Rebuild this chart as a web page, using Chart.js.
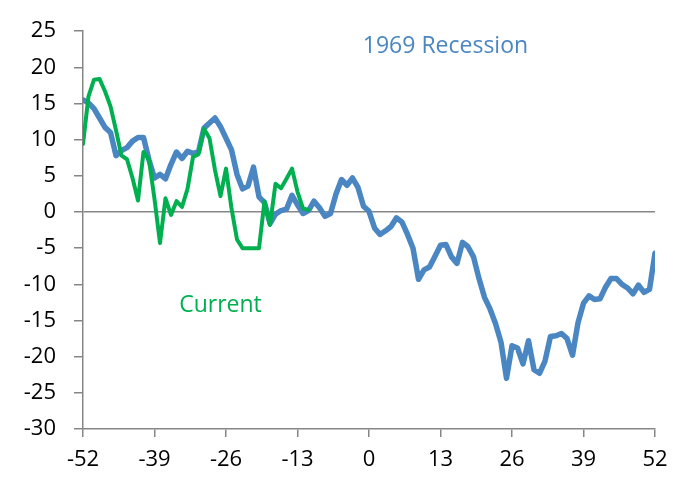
<!DOCTYPE html>
<html>
<head>
<meta charset="utf-8">
<script src="https://cdn.jsdelivr.net/npm/chart.js@4"></script>
<style>
  html, body { margin: 0; padding: 0; background: #fff; }
  #wrap { width: 700px; height: 493px; }
</style>
</head>
<body>
<div id="wrap"><canvas id="c" width="700" height="493"></canvas></div>
<script>
// Weeks relative to the recession start
const weeks1969 = [
  -52,-51,-50,-49,-48,-47,-46,-45,-44,-43,-42,-41,-40,
  -39,-38,-37,-36,-35,-34,-33,-32,-31,-30,-29,-28,-27,
  -26,-25,-24,-23,-22,-21,-20,-19,-18,-17,-16,-15,-14,
  -13,-12,-11,-10,-9,-8,-7,-6,-5,-4,-3,-2,-1,
  0,1,2,3,4,5,6,7,8,9,10,11,12,
  13,14,15,16,17,18,19,20,21,22,23,24,25,
  26,27,28,29,30,31,32,33,34,35,36,37,38,
  39,40,41,42,43,44,45,46,47,48,49,50,51,
  52
];
const recession1969 = [
  15.5,15.1,14.3,13.0,11.7,11.0,7.8,8.5,8.9,9.8,10.3,10.3,7.2,
  4.7,5.2,4.6,6.6,8.3,7.4,8.4,8.1,8.3,11.6,12.3,13.0,11.8,
  10.2,8.6,5.2,3.2,3.6,6.2,2.1,1.3,-1.6,-0.3,0.2,0.4,2.3,
  1.0,-0.2,0.2,1.5,0.6,-0.6,-0.2,2.5,4.5,3.7,4.7,3.4,0.8,
  0.1,-2.2,-3.1,-2.6,-2.0,-0.8,-1.4,-3.1,-5.0,-9.3,-8.0,-7.6,-6.1,
  -4.6,-4.5,-6.2,-7.1,-4.2,-4.8,-6.2,-9.2,-11.8,-13.4,-15.4,-18.0,-23.0,
  -18.5,-18.8,-21.0,-17.8,-21.8,-22.3,-20.6,-17.2,-17.1,-16.8,-17.5,-19.8,-15.3,
  -12.6,-11.6,-12.1,-12.0,-10.4,-9.2,-9.2,-10.0,-10.5,-11.3,-10.1,-11.1,-10.7,
  -5.7
];
const weeksCurrent = [
  -52,-51,-50,-49,-48,-47,-46,-45,-44,-43,-42,-41,-40,
  -39,-38,-37,-36,-35,-34,-33,-32,-31,-30,-29,-28,-27,
  -26,-25,-24,-23,-22,-21,-20,-19,-18,-17,-16,-15,-14,
  -13,-12,-11
];
const current = [
  9.4,16.0,18.3,18.4,16.7,14.6,11.3,7.8,7.3,4.7,1.6,8.3,7.2,
  1.8,-4.3,1.9,-0.4,1.5,0.7,3.2,7.6,8.0,11.5,10.2,5.8,2.2,
  6.0,0.5,-3.8,-5.0,-5.0,-5.0,-5.0,1.5,-1.8,3.9,3.3,4.6,6.0,
  2.8,0.5,0.3
];
const xTicks = [-52,-39,-26,-13,0,13,26,39,52];
const yTicks = [-30,-25,-20,-15,-10,-5,0,5,10,15,20,25];
const seriesLabels = ['1969 Recession', 'Current'];
// label anchors in data units
const labelAnchors = [[13.9, 22.9], [-27.0, -12.9]];

const BLUE = '#4A86C2';
const GREEN = '#00B050';
const AXIS = '#868686';
const FONT = '"Open Sans", Lato, sans-serif';

const toPoints = (xs, ys) => xs.map((x, i) => ({ x: x, y: ys[i] }));

const seriesText = {
  id: 'seriesText',
  afterDatasetsDraw(chart) {
    const { ctx, scales } = chart;
    const colors = [BLUE, GREEN];
    ctx.save();
    ctx.font = '23px ' + FONT;
    ctx.textAlign = 'center';
    ctx.textBaseline = 'middle';
    seriesLabels.forEach((t, i) => {
      ctx.fillStyle = colors[i];
      ctx.fillText(t, scales.x.getPixelForValue(labelAnchors[i][0]), scales.y.getPixelForValue(labelAnchors[i][1]));
    });
    ctx.restore();
  }
};

new Chart(document.getElementById('c'), {
  type: 'line',
  data: {
    datasets: [
      {
        label: seriesLabels[1],
        data: toPoints(weeksCurrent, current),
        borderColor: GREEN,
        borderWidth: 4,
        borderJoinStyle: 'round',
        borderCapStyle: 'round',
        pointRadius: 0,
        tension: 0,
        fill: false,
        order: 0
      },
      {
        label: seriesLabels[0],
        data: toPoints(weeks1969, recession1969),
        borderColor: BLUE,
        borderWidth: 5.5,
        borderJoinStyle: 'round',
        borderCapStyle: 'round',
        pointRadius: 0,
        tension: 0,
        fill: false,
        order: 1
      }
    ]
  },
  options: {
    responsive: false,
    animation: false,
    events: [],
    layout: { padding: { top: 29, right: 45, bottom: 0, left: 0 } },
    plugins: { legend: { display: false }, tooltip: { enabled: false } },
    scales: {
      x: {
        type: 'linear',
        min: -52, max: 52,
        afterBuildTicks: (s) => { s.ticks = xTicks.map(v => ({ value: v })); },
        afterFit: (s) => { s.height = 64; },
        ticks: { color: '#000', font: { family: FONT, size: 22 }, padding: 10, maxRotation: 0 },
        grid: { drawOnChartArea: false, tickLength: 8, color: AXIS, lineWidth: 1.5 },
        border: { color: AXIS, width: 1.5 }
      },
      y: {
        min: -30, max: 25,
        afterBuildTicks: (s) => { s.ticks = yTicks.map(v => ({ value: v })); },
        afterFit: (s) => { s.width = 83; },
        ticks: { color: '#000', font: { family: FONT, size: 22 }, padding: 18 },
        grid: {
          drawOnChartArea: true,
          tickLength: 9,
          color: (c) => (c.tick && c.tick.value === 0 ? AXIS : 'rgba(0,0,0,0)'),
          tickColor: AXIS,
          lineWidth: 1.5
        },
        border: { color: AXIS, width: 1.5 }
      }
    }
  },
  plugins: [seriesText]
});
</script>
</body>
</html>
